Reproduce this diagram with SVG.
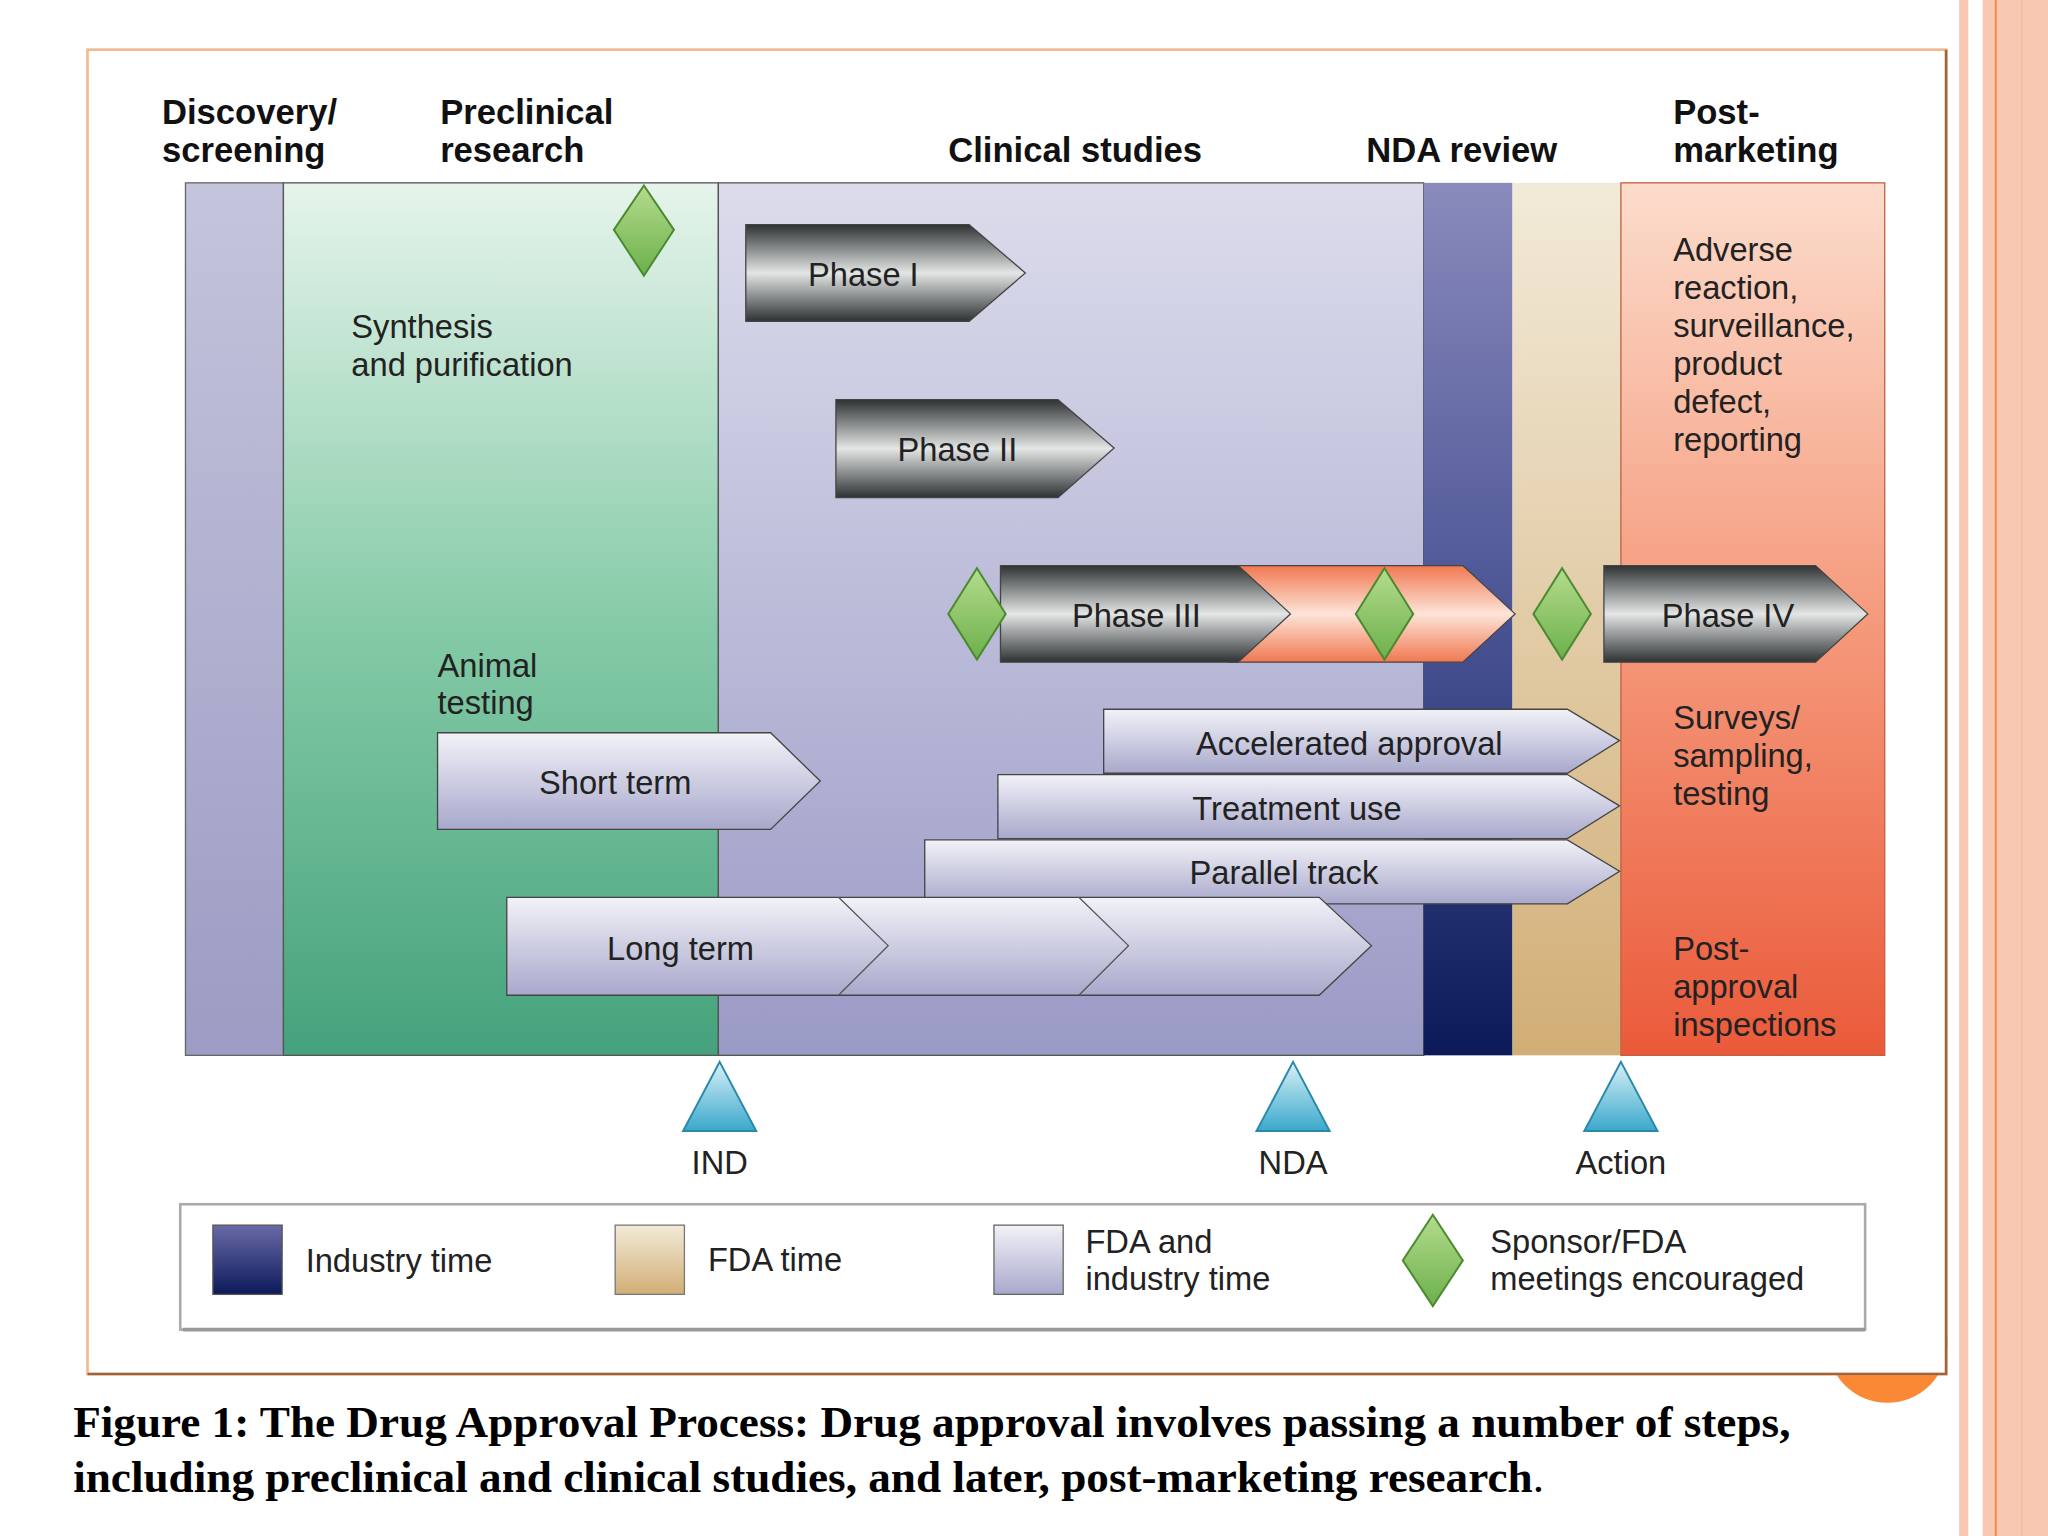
<svg xmlns="http://www.w3.org/2000/svg" width="2048" height="1536" viewBox="0 0 2048 1536">
<defs>
<linearGradient id="gGreen" x1="0" y1="0" x2="0" y2="1"><stop offset="0" stop-color="#e6f4ec"/><stop offset="0.5" stop-color="#86cba8"/><stop offset="1" stop-color="#45a27c"/></linearGradient>
<linearGradient id="gLav" x1="0" y1="0" x2="0" y2="1"><stop offset="0" stop-color="#dcdcec"/><stop offset="1" stop-color="#9a9ac6"/></linearGradient>
<linearGradient id="gDisc" x1="0" y1="0" x2="0" y2="1"><stop offset="0" stop-color="#c4c4dc"/><stop offset="1" stop-color="#9c9cc4"/></linearGradient>
<linearGradient id="gNavy" x1="0" y1="0" x2="0" y2="1"><stop offset="0" stop-color="#8a8abc"/><stop offset="0.5" stop-color="#4a5494"/><stop offset="1" stop-color="#0c1a5a"/></linearGradient>
<linearGradient id="gBeige" x1="0" y1="0" x2="0" y2="1"><stop offset="0" stop-color="#f2ead8"/><stop offset="1" stop-color="#d2ae76"/></linearGradient>
<linearGradient id="gSalmon" x1="0" y1="0" x2="0" y2="1"><stop offset="0" stop-color="#fcdccc"/><stop offset="0.5" stop-color="#f59a7c"/><stop offset="1" stop-color="#ea5a3a"/></linearGradient>
<linearGradient id="gMetal" x1="0" y1="0" x2="0" y2="1"><stop offset="0" stop-color="#2e3232"/><stop offset="0.5" stop-color="#e4e6e6"/><stop offset="1" stop-color="#2e3232"/></linearGradient>
<linearGradient id="gOrangeArr" x1="0" y1="0" x2="0" y2="1"><stop offset="0" stop-color="#f07850"/><stop offset="0.5" stop-color="#fde4d8"/><stop offset="1" stop-color="#f07850"/></linearGradient>
<linearGradient id="gLavArr" x1="0" y1="0" x2="0" y2="1"><stop offset="0" stop-color="#f2f2f8"/><stop offset="1" stop-color="#a8a8cc"/></linearGradient>
<linearGradient id="gDiam" x1="0" y1="0" x2="0" y2="1"><stop offset="0" stop-color="#b4dc8c"/><stop offset="1" stop-color="#6cb04c"/></linearGradient>
<linearGradient id="gTri" x1="0" y1="0" x2="0" y2="1"><stop offset="0" stop-color="#d8f0f6"/><stop offset="1" stop-color="#3aa8cc"/></linearGradient>
<linearGradient id="gLegNavy" x1="0" y1="0" x2="0" y2="1"><stop offset="0" stop-color="#6a6aa8"/><stop offset="1" stop-color="#0c1a5a"/></linearGradient>
<style>
.h{font-family:"Liberation Sans",Arial,sans-serif;font-weight:bold;font-size:26.5px;fill:#111}
.t{font-family:"Liberation Sans",Arial,sans-serif;font-size:25px;fill:#222}
.c{text-anchor:middle}
.arr{stroke:#444;stroke-width:1}
.dia{fill:url(#gDiam);stroke:#4a8a30;stroke-width:1.5}
.tri{fill:url(#gTri);stroke:#2a88aa;stroke-width:1.5}
.cap{font-family:"Liberation Serif","Times New Roman",serif;font-weight:bold;font-size:34.6px;fill:#000}
</style>
</defs>
<rect width="2048" height="1536" fill="#fff"/>
<g transform="scale(1.306122)">
<g id="decor">
<rect x="1500" y="0" width="7" height="1176" fill="#f9c8b2"/>
<rect x="1518" y="0" width="50" height="1176" fill="#f9c8b2"/>
<line x1="1528" y1="0" x2="1528" y2="1176" stroke="#f58a40" stroke-width="1.5"/>
<line x1="1548" y1="0" x2="1548" y2="1176" stroke="#f9b896" stroke-width="1"/>
<circle cx="1445" cy="1028" r="46" fill="#fb8834"/>
<rect x="67" y="38" width="1423" height="1014" fill="#fff" stroke="#f4b890" stroke-width="2"/>
<polyline points="1490,38 1490,1052 67,1052" fill="none" stroke="#a0643a" stroke-width="2"/>
</g>
<g id="columns">
<rect x="142" y="140" width="75" height="668" fill="url(#gDisc)" stroke="#666" stroke-width="1"/>
<rect x="217" y="140" width="333" height="668" fill="url(#gGreen)" stroke="#555" stroke-width="1"/>
<rect x="550" y="140" width="540" height="668" fill="url(#gLav)" stroke="#555" stroke-width="1"/>
<rect x="1090" y="140" width="68" height="668" fill="url(#gNavy)"/>
<rect x="1158" y="140" width="83" height="668" fill="url(#gBeige)"/>
<rect x="1241" y="140" width="202" height="668" fill="url(#gSalmon)" stroke="#c06040" stroke-width="1"/>
</g>
<g id="headers">
<text class="h" x="124" y="95">Discovery/</text><text class="h" x="124" y="124">screening</text>
<text class="h" x="337" y="95">Preclinical</text><text class="h" x="337" y="124">research</text>
<text class="h" x="726" y="124">Clinical studies</text>
<text class="h" x="1046" y="124">NDA review</text>
<text class="h" x="1281" y="95">Post-</text><text class="h" x="1281" y="124">marketing</text>
</g>
<g id="labels">
<text class="t" x="269" y="259">Synthesis</text><text class="t" x="269" y="288">and purification</text>
<text class="t" x="335" y="518">Animal</text><text class="t" x="335" y="547">testing</text>
<text class="t" x="1281" y="200">Adverse</text><text class="t" x="1281" y="229">reaction,</text><text class="t" x="1281" y="258">surveillance,</text><text class="t" x="1281" y="287">product</text><text class="t" x="1281" y="316">defect,</text><text class="t" x="1281" y="345">reporting</text>
<text class="t" x="1281" y="558">Surveys/</text><text class="t" x="1281" y="587">sampling,</text><text class="t" x="1281" y="616">testing</text>
<text class="t" x="1281" y="735">Post-</text><text class="t" x="1281" y="764">approval</text><text class="t" x="1281" y="793">inspections</text>
</g>
<g id="connectors">
<path class="arr" fill="url(#gLavArr)" d="M708,643 H1200 L1240,667 L1200,692 H708 Z"/>
<path class="arr" fill="url(#gLavArr)" d="M764,593 H1200 L1240,617 L1200,642 H764 Z"/>
<path class="arr" fill="url(#gLavArr)" d="M845,543 H1200 L1240,567 L1200,592 H845 Z"/>
<path class="arr" fill="url(#gLavArr)" d="M335,561 H590 L628,598 L590,635 H335 Z"/>
<path class="arr" fill="url(#gLavArr)" d="M388,687 H1010 L1050,724 L1010,762 H388 Z"/>
<polyline points="642,687 680,724 642,762" fill="none" stroke="#555"/>
<polyline points="826,687 864,724 826,762" fill="none" stroke="#555"/>
<path class="arr" fill="url(#gMetal)" d="M571,172 H742 L785,209 L742,246 H571 Z"/>
<path class="arr" fill="url(#gMetal)" d="M640,306 H810 L853,343 L810,381 H640 Z"/>
<path class="arr" fill="url(#gOrangeArr)" d="M940,433 H1120 L1160,470 L1120,507 H940 Z"/>
<path class="arr" fill="url(#gMetal)" d="M766,433 H948 L988,470 L948,507 H766 Z"/>
<path class="arr" fill="url(#gMetal)" d="M1228,433 H1390 L1430,470 L1390,507 H1228 Z"/>
</g>
<g id="arrowtext">
<text class="t c" x="661" y="219">Phase I</text>
<text class="t c" x="733" y="353">Phase II</text>
<text class="t c" x="870" y="480">Phase III</text>
<text class="t c" x="1323" y="480">Phase IV</text>
<text class="t c" x="1033" y="578">Accelerated approval</text>
<text class="t c" x="993" y="628">Treatment use</text>
<text class="t c" x="983" y="677">Parallel track</text>
<text class="t c" x="471" y="608">Short term</text>
<text class="t c" x="521" y="735">Long term</text>
</g>
<g id="diamonds">
<polygon class="dia" points="493,142 516,176 493,211 470,176"/>
<polygon class="dia" points="748,435 770,470 748,505 726,470"/>
<polygon class="dia" points="1060,435 1082,470 1060,505 1038,470"/>
<polygon class="dia" points="1196,435 1218,470 1196,505 1174,470"/>
</g>
<g id="milestones">
<polygon class="tri" points="551,813 579,866 523,866"/>
<polygon class="tri" points="990,813 1018,866 962,866"/>
<polygon class="tri" points="1241,813 1269,866 1213,866"/>
<text class="t c" x="551" y="899">IND</text>
<text class="t c" x="990" y="899">NDA</text>
<text class="t c" x="1241" y="899">Action</text>
</g>
<g id="legend">
<rect x="138" y="922" width="1290" height="96" fill="#fff" stroke="#aaa" stroke-width="2"/>
<line x1="140" y1="1018" x2="1428" y2="1018" stroke="#999" stroke-width="3"/>
<rect x="163" y="938" width="53" height="53" fill="url(#gLegNavy)" stroke="#555"/>
<text class="t" x="234" y="974">Industry time</text>
<rect x="471" y="938" width="53" height="53" fill="url(#gBeige)" stroke="#777"/>
<text class="t" x="542" y="973">FDA time</text>
<rect x="761" y="938" width="53" height="53" fill="url(#gLavArr)" stroke="#666"/>
<text class="t" x="831" y="959">FDA and</text><text class="t" x="831" y="988">industry time</text>
<polygon class="dia" points="1097,930 1120,965 1097,1000 1074,965"/>
<text class="t" x="1141" y="959">Sponsor/FDA</text><text class="t" x="1141" y="988">meetings encouraged</text>
</g>
<g id="caption">
<text class="cap" x="56" y="1100">Figure 1: The Drug Approval Process: Drug approval involves passing a number of steps,</text>
<text class="cap" x="56" y="1142">including preclinical and clinical studies, and later, post-marketing research<tspan font-weight="normal">.</tspan></text>
</g>
</g>
</svg>
